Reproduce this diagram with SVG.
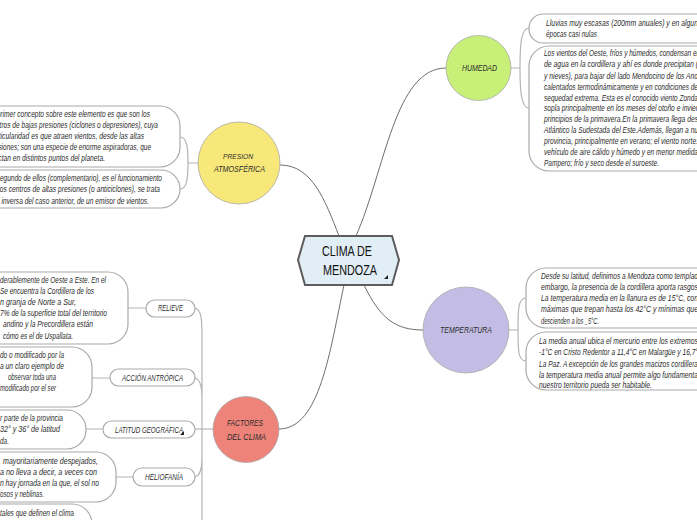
<svg xmlns="http://www.w3.org/2000/svg" width="697" height="520" viewBox="0 0 697 520">
<style>
text{font-family:"Liberation Sans",Arial,sans-serif;fill:#2b2b2b}
.t{font-size:9px;font-style:italic}
.l{font-size:9px;font-style:italic}
.c{font-size:15px;fill:#111}
.b{fill:#fff;stroke:#aaa;stroke-width:1.2}
.n{stroke:#aaa;stroke-width:.8}
.k{fill:none;stroke:#b4b4b4;stroke-width:1.2}
.m{fill:none;stroke:#6e6e6e;stroke-width:1}
</style>
<defs><path id="tri" d="M0,0L4,0L4,-4Z" fill="#222"/></defs>
<rect width="697" height="520" fill="#fff"/>
<g id="connectors">
<path class="m" d="M356,236C385,170 395,68 446,68"/>
<path class="m" d="M339,236C325,200 312,165 280,165"/>
<path class="m" d="M364,285C380,318 395,330 423,330"/>
<path class="m" d="M344,285C330,350 320,429 279,429"/>
<path class="k" d="M198,163H188M188,163C188,148 187,137 180,137M188,163C188,178 187,189 180,189"/>
<path class="k" d="M511,68H520M520,68C520,45 521,28 529,28M520,68C520,90 521,108 529,108"/>
<path class="k" d="M509,330H518M518,330C518,310 518,298 526,298M518,330C518,350 518,361 526,361"/>
<path class="k" d="M128,308H146M92,378H110M86,429H103M116,477H133"/>
<path class="k" d="M213,429H195"/>
<path class="k" d="M195,308C201,310 202,318 202,335V520M195,378C201,380 202,388 202,400M195,477C201,475 202,467 202,455"/>
</g>
<g id="center"><path d="M305,236H392L399,260L392,285H305L298,260Z" fill="#e1eef5" stroke="#5c5c5c" stroke-width="2"/>
<text class="c" x="322" y="256" textLength="50" lengthAdjust="spacingAndGlyphs">CLIMA DE</text>
<text class="c" x="323" y="275" textLength="54" lengthAdjust="spacingAndGlyphs">MENDOZA</text>
<use href="#tri" x="384" y="279"/></g>
<g id="presion"><circle class="n" cx="239" cy="163" r="41" fill="#f8e87a"/>
<text class="l" x="223" y="159" textLength="30" lengthAdjust="spacingAndGlyphs" style="font-size:8px">PRESION</text><text class="l" x="214" y="172" textLength="51" lengthAdjust="spacingAndGlyphs">ATMOSFÉRICA</text></g>
<g id="humedad"><circle class="n" cx="478.5" cy="68" r="32.5" fill="#c8ef78"/>
<text class="l" x="462" y="71" textLength="35" lengthAdjust="spacingAndGlyphs">HUMEDAD</text></g>
<g id="temperatura"><circle class="n" cx="466" cy="330" r="43" fill="#c3bde5"/>
<text class="l" x="440" y="333" textLength="52" lengthAdjust="spacingAndGlyphs">TEMPERATURA</text></g>
<g id="factores"><circle class="n" cx="246" cy="429.500" r="33" fill="#ee8379"/>
<text class="l" x="227" y="426" textLength="36" lengthAdjust="spacingAndGlyphs">FACTORES</text><text class="l" x="227" y="440" textLength="39" lengthAdjust="spacingAndGlyphs">DEL CLIMA</text></g>

<g id="presion-1"><rect class="b" x="-40" y="106" width="220" height="61" rx="20"/>
<text class="t" x="-11" y="116.500" textLength="161" lengthAdjust="spacingAndGlyphs">El primer concepto sobre este elemento es que son los</text>
<text class="t" x="-11" y="127.500" textLength="169" lengthAdjust="spacingAndGlyphs">centros de bajas presiones (ciclones o depresiones), cuya</text>
<text class="t" x="-11" y="138.500" textLength="155" lengthAdjust="spacingAndGlyphs">particularidad es que atraen vientos, desde las altas</text>
<text class="t" x="-11" y="149.500" textLength="162" lengthAdjust="spacingAndGlyphs">presiones; son una especie de enorme aspiradoras, que</text>
<text class="t" x="-11" y="160.500" textLength="116" lengthAdjust="spacingAndGlyphs">afectan en distintos puntos del planeta.</text></g>
<g id="presion-2"><rect class="b" x="-40" y="170" width="220" height="38" rx="19"/>
<text class="t" x="-11" y="180.500" textLength="173" lengthAdjust="spacingAndGlyphs">El segundo de ellos (complementario), es el funcionamiento</text>
<text class="t" x="-11" y="191.500" textLength="171" lengthAdjust="spacingAndGlyphs">de los centros de altas presiones (o anticiclones), se trata</text>
<text class="t" x="-11" y="203.500" textLength="160" lengthAdjust="spacingAndGlyphs">a la inversa del caso anterior, de un emisor de vientos.</text></g>

<g id="humedad-1"><rect class="b" x="529" y="14" width="220" height="29" rx="14"/>
<text class="t" x="546" y="26" textLength="152" lengthAdjust="spacingAndGlyphs">Lluvias muy escasas (200mm anuales) y en algun</text>
<text class="t" x="546" y="37" textLength="51" lengthAdjust="spacingAndGlyphs">épocas casi nulas</text></g>
<g id="humedad-2"><rect class="b" x="529" y="46" width="220" height="125" rx="20"/>
<text class="t" x="544" y="56" textLength="154" lengthAdjust="spacingAndGlyphs">Los vientos del Oeste, fríos y húmedos, condensan el</text>
<text class="t" x="544" y="67" textLength="154" lengthAdjust="spacingAndGlyphs">de agua en la cordillera y ahí es donde precipitan (</text>
<text class="t" x="544" y="78.500" textLength="154" lengthAdjust="spacingAndGlyphs">y nieves), para bajar del lado Mendocino de los And</text>
<text class="t" x="544" y="89.500" textLength="154" lengthAdjust="spacingAndGlyphs">calentados termodinámicamente y en condiciones de</text>
<text class="t" x="544" y="100.500" textLength="154" lengthAdjust="spacingAndGlyphs">sequedad extrema. Esta es el conocido viento Zonda</text>
<text class="t" x="544" y="111" textLength="154" lengthAdjust="spacingAndGlyphs">sopla principalmente en los meses del otoño e invier</text>
<text class="t" x="544" y="122" textLength="154" lengthAdjust="spacingAndGlyphs">principios de la primavera.En la primavera llega des</text>
<text class="t" x="544" y="133" textLength="154" lengthAdjust="spacingAndGlyphs">Atlántico la Sudestada del Este.Además, llegan a nu</text>
<text class="t" x="544" y="144" textLength="154" lengthAdjust="spacingAndGlyphs">provincia, principalmente en verano; el viento norte:</text>
<text class="t" x="544" y="155" textLength="154" lengthAdjust="spacingAndGlyphs">vehículo de aire cálido y húmedo y en menor medida</text>
<text class="t" x="544" y="166" textLength="115" lengthAdjust="spacingAndGlyphs">Pampero; frío y seco desde el suroeste.</text></g>

<g id="temperatura-1"><rect class="b" x="526" y="268" width="220" height="60" rx="20"/>
<text class="t" x="541" y="279" textLength="157" lengthAdjust="spacingAndGlyphs">Desde su latitud, definimos a Mendoza como templad</text>
<text class="t" x="541" y="290" textLength="157" lengthAdjust="spacingAndGlyphs">embargo, la presencia de la cordillera aporta rasgos</text>
<text class="t" x="541" y="301" textLength="157" lengthAdjust="spacingAndGlyphs">La temperatura media en la llanura es de 15°C, con</text>
<text class="t" x="541" y="312" textLength="157" lengthAdjust="spacingAndGlyphs">máximas que trepan hasta los 42°C y mínimas que</text>
<text class="t" x="541" y="323.500" textLength="58" lengthAdjust="spacingAndGlyphs">descienden a los _5°C.</text></g>
<g id="temperatura-2"><rect class="b" x="526" y="332" width="220" height="58" rx="20"/>
<text class="t" x="539" y="344" textLength="159" lengthAdjust="spacingAndGlyphs">La media anual ubica el mercurio entre los extremos</text>
<text class="t" x="539" y="355" textLength="159" lengthAdjust="spacingAndGlyphs">-1°C en Cristo Redentor a 11,4°C en Malargüe y 16,7°</text>
<text class="t" x="539" y="366.500" textLength="159" lengthAdjust="spacingAndGlyphs">La Paz. A excepción de los grandes macizos cordillera</text>
<text class="t" x="539" y="377.500" textLength="159" lengthAdjust="spacingAndGlyphs">la temperatura media anual permite algo fundamenta</text>
<text class="t" x="539" y="387.500" textLength="113" lengthAdjust="spacingAndGlyphs">nuestro territorio pueda ser habitable.</text></g>

<g id="relieve"><rect class="b" x="146" y="300" width="49" height="17" rx="8.500"/>
<text class="l" x="158" y="311" textLength="25" lengthAdjust="spacingAndGlyphs">RELIEVE</text></g>
<g id="relieve-box"><rect class="b" x="-60" y="272" width="188" height="72" rx="20"/>
<text class="t" x="0" y="282.500" textLength="106" lengthAdjust="spacingAndGlyphs">derablemente de Oeste a Este. En el</text>
<text class="t" x="0" y="293.500" textLength="94" lengthAdjust="spacingAndGlyphs">Se encuentra la Cordillera de los</text>
<text class="t" x="0" y="304.500" textLength="76" lengthAdjust="spacingAndGlyphs">n granja de Norte a Sur,</text>
<text class="t" x="0" y="315.500" textLength="107" lengthAdjust="spacingAndGlyphs">7% de la superficie total del territorio</text>
<text class="t" x="3" y="326.500" textLength="90" lengthAdjust="spacingAndGlyphs">andino y la Precordillera están</text>
<text class="t" x="3" y="338.500" textLength="70" lengthAdjust="spacingAndGlyphs">cómo es el de Uspallata.</text></g>
<g id="accion"><rect class="b" x="110" y="369" width="85" height="17" rx="8.500"/>
<text class="l" x="122" y="380.500" textLength="61" lengthAdjust="spacingAndGlyphs">ACCIÓN ANTRÓPICA</text></g>
<g id="accion-box"><rect class="b" x="-60" y="347" width="152" height="60" rx="20"/>
<text class="t" x="0" y="357.500" textLength="64" lengthAdjust="spacingAndGlyphs">do o modificado por la</text>
<text class="t" x="0" y="368.500" textLength="64" lengthAdjust="spacingAndGlyphs">a un claro ejemplo de</text>
<text class="t" x="8" y="379.500" textLength="48" lengthAdjust="spacingAndGlyphs">observar toda una</text>
<text class="t" x="0" y="390.500" textLength="56" lengthAdjust="spacingAndGlyphs">modificado por el ser</text></g>
<g id="latitud"><rect class="b" x="103" y="421" width="92" height="17" rx="8.500"/>
<text class="l" x="115" y="432.500" textLength="68" lengthAdjust="spacingAndGlyphs">LATITUD GEOGRÁFICA</text>
<use href="#tri" x="180" y="435"/></g>
<g id="latitud-box"><rect class="b" x="-60" y="410" width="146" height="39" rx="19"/>
<text class="t" x="0" y="420.500" textLength="63" lengthAdjust="spacingAndGlyphs">r parte de la provincia</text>
<text class="t" x="0" y="431.500" textLength="60" lengthAdjust="spacingAndGlyphs">32° y 36° de latitud</text>
<text class="t" x="0" y="443.500" textLength="9" lengthAdjust="spacingAndGlyphs">da.</text></g>
<g id="heliofania"><rect class="b" x="133" y="468" width="62" height="18" rx="9"/>
<text class="l" x="145" y="480" textLength="38" lengthAdjust="spacingAndGlyphs">HELIOFANÍA</text></g>
<g id="heliofania-box"><rect class="b" x="-60" y="452" width="176" height="50" rx="20"/>
<text class="t" x="3" y="463.500" textLength="95" lengthAdjust="spacingAndGlyphs">mayoritariamente despejados,</text>
<text class="t" x="0" y="474.500" textLength="97" lengthAdjust="spacingAndGlyphs">a no lleva a decir, a veces con</text>
<text class="t" x="0" y="485.500" textLength="99" lengthAdjust="spacingAndGlyphs">n hay jornada en la que, el sol no</text>
<text class="t" x="0" y="496.500" textLength="44" lengthAdjust="spacingAndGlyphs">osos y neblinas.</text></g>
<g id="ultimo-box"><rect class="b" x="-60" y="504" width="152" height="50" rx="20"/>
<text class="t" x="0" y="515.500" textLength="74" lengthAdjust="spacingAndGlyphs">tales que definen el clima</text></g>
</svg>
